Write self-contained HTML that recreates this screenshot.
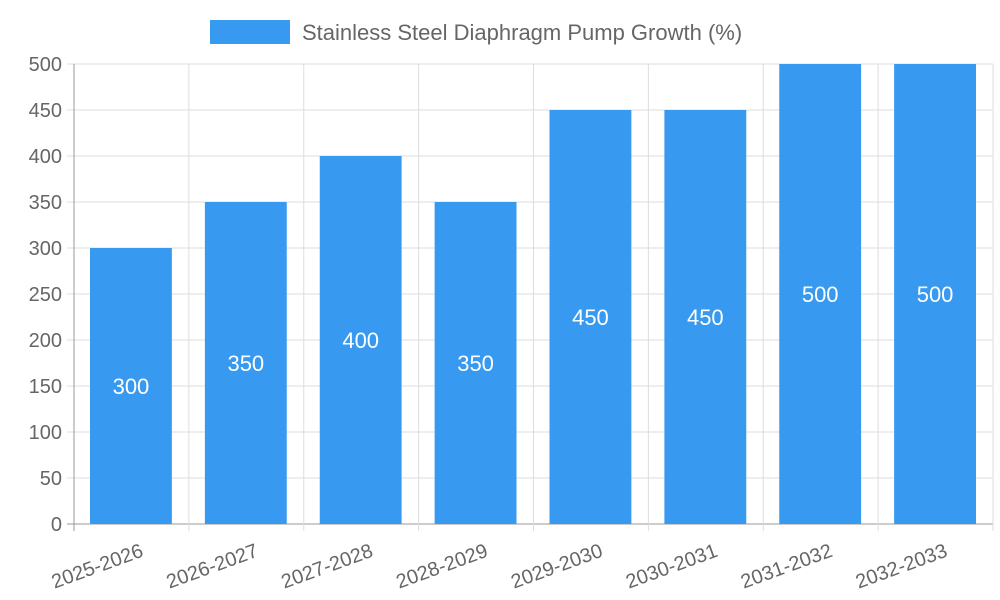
<!DOCTYPE html>
<html><head><meta charset="utf-8"><style>
body{margin:0;background:#fff;}
svg{display:block;font-family:"Liberation Sans",sans-serif;}
</style></head><body>
<svg id="chart" width="1000" height="600">
<g id="legend">
<rect x="210" y="20" width="80" height="24" fill="#379af0"/>
<text x="302" y="40" font-size="22" fill="#666">Stainless Steel Diaphragm Pump Growth (%)</text>
</g>
<g id="grid"></g><g id="bars"></g><g id="axes"></g>
</svg>
<script>
const categories=["2025-2026","2026-2027","2027-2028","2028-2029","2029-2030","2030-2031","2031-2032","2032-2033"];
const values=[300,350,400,350,450,450,500,500];
const yTicks=[0,50,100,150,200,250,300,350,400,450,500];
const NS="http://www.w3.org/2000/svg";
const L=74,R=993,T=64,B=524,yMax=500;
const band=(R-L)/categories.length;
const y=v=>B-(v/yMax)*(B-T);
const x=i=>L+i*band;
function mk(tag,attrs,parent,text){const e=document.createElementNS(NS,tag);for(const k in attrs)e.setAttribute(k,attrs[k]);if(text!==undefined)e.textContent=text;parent.appendChild(e);return e;}
const grid=document.getElementById('grid'),bars=document.getElementById('bars'),axes=document.getElementById('axes');
yTicks.forEach(t=>{
  const l=mk('line',{x1:L-7,x2:R,y1:y(t),y2:y(t),stroke:t===0?'#999':'#ddd','stroke-width':1},grid);
  
  
  const tx=mk('text',{x:L-12,y:y(t)+7,'text-anchor':'end','font-size':20,fill:'#666'},axes,String(t));
  
  
});
for(let i=0;i<=categories.length;i++){
  const l=mk('line',{x1:x(i),x2:x(i),y1:T,y2:B+7,stroke:i===0?'#999':'#ddd','stroke-width':1},grid);
  
  
}
categories.forEach((c,i)=>{
  const bx=x(i)+16,bw=band-33;
  const r=mk('rect',{x:bx,y:y(values[i]),width:bw,height:B-y(values[i]),fill:'#379af0'},bars);
  
  
  const vt=mk('text',{x:bx+bw/2,y:(y(values[i])+B)/2+8,'text-anchor':'middle','font-size':22,fill:'#fff'},bars,String(values[i]));
  
  
  const cx=x(i)+band/2+13,cy=B+32;
  const lt=mk('text',{x:cx,y:cy,'text-anchor':'end','font-size':20,fill:'#666',transform:`rotate(-20 ${cx} ${cy})`},axes,c);
  
  
});
</script>
</body></html>
